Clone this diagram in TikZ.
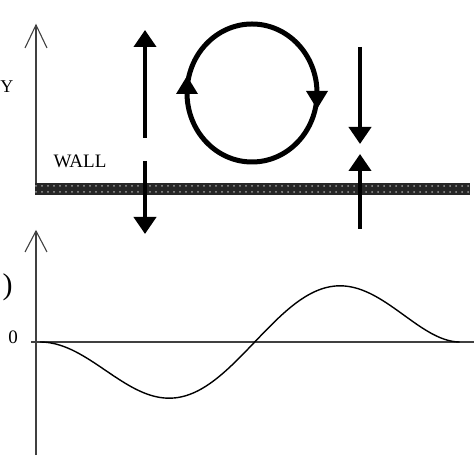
\documentclass[tikz,border=0pt]{standalone}
\usepackage{fontspec}
\setmainfont{Liberation Serif}
\usetikzlibrary{arrows.meta,patterns}
\tikzset{
  bold arrow/.style={line width=2pt,-{Triangle[width=11pt,length=8.5pt]}},
  axis/.style={line width=0.55pt,black!75},
  headtri/.style={fill=black,draw=none},
  lbl/.style={inner sep=0pt,font=\fontsize{9.5}{11}\selectfont}
}
\begin{document}
\begin{tikzpicture}[x=0.5pt,y=-0.5pt]
\useasboundingbox (0,0) rectangle (474,474);
\clip (0,0) rectangle (474,474);
% top axis
\coordinate (ta0) at (36,185);
\coordinate (ta1) at (36,25);
\draw[axis] (ta0) -- (ta1);
\draw[axis] (25,48) -- (ta1) -- (47,48);
\node[lbl,anchor=west,font=\fontsize{9}{10}\selectfont] (y) at (0,87) {Y};
% wall
\node[lbl,anchor=center] (wall) at (80,161) {WALL};
\fill[black!85] (35,183) rectangle (470,195);
\fill[pattern=dots,pattern color=black!40] (35,183) rectangle (470,195);
% bold arrows
\coordinate (a1s) at (145,138); \coordinate (a1e) at (145,30);
\coordinate (a2s) at (145,161); \coordinate (a2e) at (145,234);
\coordinate (a3s) at (360,47);  \coordinate (a3e) at (360,144);
\coordinate (a4s) at (360,229); \coordinate (a4e) at (360,154);
\draw[bold arrow] (a1s) -- (a1e);
\draw[bold arrow] (a2s) -- (a2e);
\draw[bold arrow] (a3s) -- (a3e);
\draw[bold arrow] (a4s) -- (a4e);
% circulation
\coordinate (cc) at (252,93);
\draw[line width=2.5pt] (cc) ellipse [x radius=65, y radius=69];
\fill[headtri] (187,76) -- (176,94) -- (198,94) -- cycle;
\fill[headtri] (317,109) -- (306,91) -- (328,91) -- cycle;
% bottom axes
\coordinate (ba0) at (36,455);
\coordinate (ba1) at (36,231);
\draw[axis] (ba0) -- (ba1);
\draw[axis] (25,252) -- (ba1) -- (47,252);
\coordinate (h0) at (31,342);
\coordinate (h1) at (474,342);
\draw[axis] (h0) -- (h1);
\node[lbl,font=\fontsize{9.5}{11}\selectfont] (zero) at (13,337) {0};
\node[lbl,anchor=east,font=\fontsize{15}{17}\selectfont] (par) at (13,287) {)};
% curve
\draw[line width=0.7pt] plot[domain=0:1,samples=120,smooth]
  ({40+420*(\x+0.18*\x*\x*\x*(1-\x))},{342+73*sin(360*\x)*sin(180*\x)});
\end{tikzpicture}
\end{document}
